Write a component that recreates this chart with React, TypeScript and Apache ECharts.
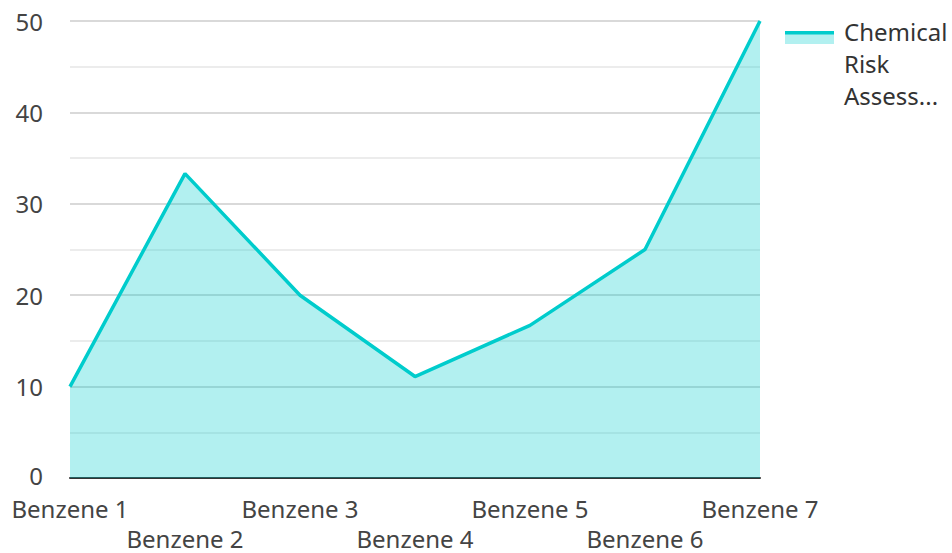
import React, { useEffect, useRef } from "react";
import * as echarts from "echarts";

const categories = ["Benzene 1", "Benzene 2", "Benzene 3", "Benzene 4", "Benzene 5", "Benzene 6", "Benzene 7"];
const riskValues = [10, 33.3, 20, 11.1, 16.7, 25, 50];
const seriesName = "Chemical Risk Assessment";
const legendLabel = "Chemical\nRisk\nAssess...";

export default function App() {
  const ref = useRef<HTMLDivElement>(null);
  useEffect(() => {
    document.body.style.margin = "0";
    const chart = echarts.init(ref.current!, null, { renderer: "svg" });
    const font = "'Noto Sans', 'Open Sans', sans-serif";
    chart.setOption({
      animation: false,
      textStyle: { fontFamily: font },
      grid: { left: 70, right: 192, top: 21, bottom: 73, containLabel: false },
      legend: {
        show: true,
        left: 780,
        top: 15,
        padding: 0,
        orient: "vertical",
        icon: "rect",
        itemWidth: 59,
        itemHeight: 10,
        itemStyle: { color: "rgba(0,0,0,0)", borderWidth: 0, opacity: 0 },
        formatter: () => legendLabel,
        textStyle: { fontSize: 24, color: "#333", lineHeight: 32, fontFamily: font },
        data: [{ name: seriesName }],
      },
      graphic: [
        { type: "rect", left: 785, top: 34, shape: { width: 49, height: 10 }, style: { fill: "#00cccc", opacity: 0.3 } },
        { type: "rect", left: 785, top: 31, shape: { width: 49, height: 3.5 }, style: { fill: "#00cccc" } },
      ],
      xAxis: {
        type: "category",
        data: categories,
        boundaryGap: false,
        axisLine: { show: true, lineStyle: { color: "#333", width: 2 } },
        axisTick: { show: false },
        splitLine: { show: false },
        axisLabel: {
          interval: 0,
          margin: 15,
          fontSize: 24,
          color: "#444",
          lineHeight: 30,
          fontFamily: font,
          formatter: (v: string, i: number) => (i % 2 === 1 ? "\n" + v : v),
        },
      },
      yAxis: {
        type: "value",
        min: 0,
        max: 50,
        interval: 10,
        axisLine: { show: false },
        axisTick: { show: false },
        axisLabel: {
          fontSize: 24,
          color: "#444",
          margin: 27,
          lineHeight: 20,
          fontFamily: font,
          formatter: (v: number) => (v === 0 ? "{z|0}" : String(v)),
          rich: { z: { fontSize: 24, color: "#444", lineHeight: 20, padding: [0, 0, 6, 0], fontFamily: font } },
        },
        splitLine: { show: true, lineStyle: { color: "#cccccc", width: 1.5 } },
        minorTick: { show: false, splitNumber: 2 },
        minorSplitLine: { show: true, lineStyle: { color: "#e6e6e6", width: 1.5 } },
      },
      series: [
        {
          name: seriesName,
          type: "line",
          data: riskValues,
          showSymbol: false,
          symbol: "none",
          lineStyle: { color: "#00cccc", width: 3.5 },
          itemStyle: { color: "#00cccc" },
          areaStyle: { color: "#00cccc", opacity: 0.3 },
        },
      ],
    });
    return () => chart.dispose();
  }, []);
  return <div ref={ref} style={{ width: 952, height: 553 }} />;
}
